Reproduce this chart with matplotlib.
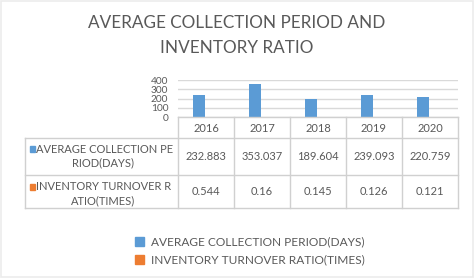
import matplotlib
matplotlib.use('Agg')
import matplotlib.pyplot as plt
from matplotlib.patches import Rectangle, Patch
import numpy as np

years = ['2016', '2017', '2018', '2019', '2020']
acp_days = [232.883, 353.037, 189.604, 239.093, 220.759]
itr_times = [0.544, 0.16, 0.145, 0.126, 0.121]
acp_text = ['232.883', '353.037', '189.604', '239.093', '220.759']
itr_text = ['0.544', '0.16', '0.145', '0.126', '0.121']
series_names = ['AVERAGE COLLECTION PERIOD(DAYS)', 'INVENTORY TURNOVER RATIO(TIMES)']
row_labels = [('AVERAGE COLLECTION PE', 'RIOD(DAYS)'), ('INVENTORY TURNOVER R', 'ATIO(TIMES)')]
yticks = [0, 100, 200, 300, 400]

blue = '#5b9bd5'
orange = '#ed7d31'
txt = '#595959'
line_c = '#d0d0d0'

plt.rcParams['font.family'] = ['Lato', 'DejaVu Sans']

W, H = 474, 279
fig = plt.figure(figsize=(W / 100, H / 100), dpi=100)
fig.patch.set_facecolor('white')

def box(l, t, r, b):
    return [l / W, 1 - b / H, (r - l) / W, (b - t) / H]

# outer border
fig.add_artist(Rectangle((0.5 / W, 2.5 / H), 1 - 1.5 / W, 1 - 3.5 / H, transform=fig.transFigure,
                         fill=False, edgecolor='#ececec', lw=1.2))

fig.text(237 / W, 1 - 23 / H, 'AVERAGE COLLECTION PERIOD AND', ha='center', va='center',
         fontsize=12.3, color=txt)
fig.text(237 / W, 1 - 48 / H, 'INVENTORY RATIO', ha='center', va='center',
         fontsize=12.3, color=txt)

# bar chart
ax = fig.add_axes(box(178, 80, 458, 117))
x = np.arange(len(years))
bw = 0.22
ax.bar(x - bw / 2 - 0.02, acp_days, bw, color=blue, zorder=3)
ax.bar(x + bw / 2 - 0.02, itr_times, bw, color=orange, zorder=3)
ax.set_xlim(-0.5, 4.5)
ax.set_ylim(0, 400)
ax.set_yticks(yticks)
ax.set_xticks([])
ax.tick_params(axis='y', length=0, pad=7, labelsize=7.3, labelcolor=txt)
ax.grid(axis='y', color='#d9d9d9', lw=1, zorder=0)
for s in ax.spines.values():
    s.set_visible(False)
ax.patch.set_alpha(0)

# data table
tab = fig.add_axes(box(25, 117, 458, 208))
left = -0.5 - (178 - 25) / 56
tab.set_xlim(left, 4.5)
tab.set_ylim(91, 0)
tab.axis('off')
rows = [0, 21, 58, 91]
kw = dict(color=line_c, lw=1, clip_on=False)
tab.plot([-0.5, 4.5], [0, 0], **kw)
for yy in rows[1:]:
    tab.plot([left, 4.5], [yy, yy], **kw)
tab.plot([left, left], [21, 91], **kw)
for xx in np.arange(-0.5, 5, 1):
    tab.plot([xx, xx], [0, 91], **kw)

for i, yr in enumerate(years):
    tab.text(i, 11, yr, ha='center', va='center', fontsize=8, color=txt)
    tab.text(i, 39.5, acp_text[i], ha='center', va='center', fontsize=8, color=txt)
    tab.text(i, 74.5, itr_text[i], ha='center', va='center', fontsize=8, color=txt)

mid = (left - 0.5) / 2
sq = 5.5 / 56
for (l1, l2), c, y0 in zip(row_labels, [blue, orange], [32, 70]):
    tab.add_patch(Rectangle((left + 5 / 56, y0 - 2.8), sq, 5.6, color=c, clip_on=False))
    tab.text(left + 11.5 / 56, y0, l1, ha='left', va='center', fontsize=8, color=txt)
    tab.text(mid + 0.02, y0 + 14, l2, ha='center', va='center', fontsize=8, color=txt)

# legend
handles = [Patch(color=blue, label=series_names[0]), Patch(color=orange, label=series_names[1])]
fig.legend(handles=handles, loc='upper left', bbox_to_anchor=(124 / W, 1 - 226 / H),
           frameon=False, fontsize=8.6, handlelength=0.75, handleheight=0.75,
           handletextpad=0.6, labelspacing=0.55, labelcolor=txt)

fig.savefig('out.png', dpi=100)
